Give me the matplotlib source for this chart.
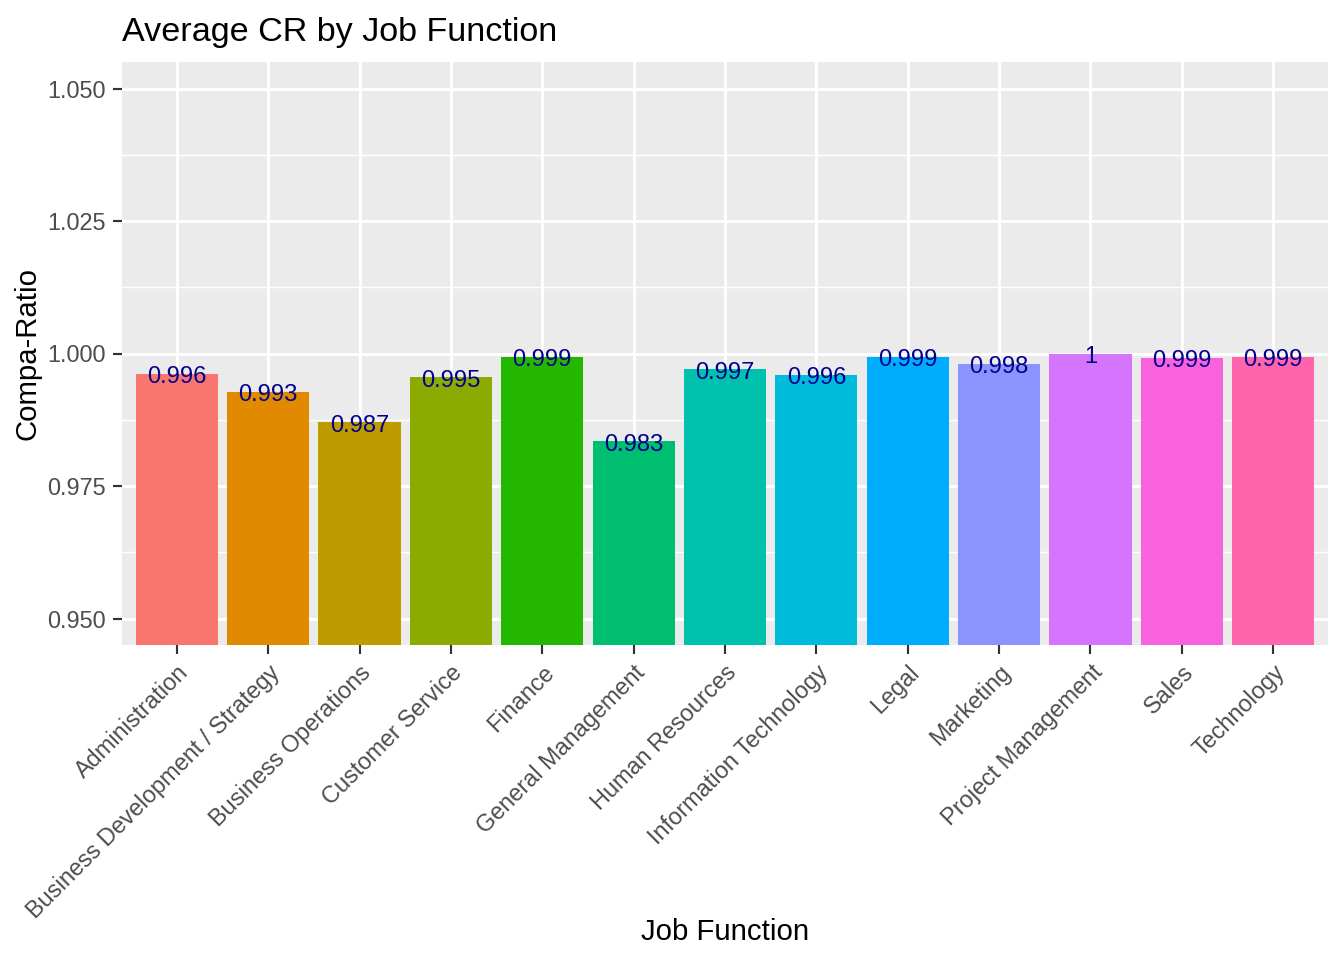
import matplotlib.pyplot as plt
import numpy as np

plt.rcParams["font.family"] = ["Liberation Sans", "DejaVu Sans"]

# Data
functions = ["Administration", "Business Development / Strategy", "Business Operations",
             "Customer Service", "Finance", "General Management", "Human Resources",
             "Information Technology", "Legal", "Marketing", "Project Management",
             "Sales", "Technology"]
avg_cr = [0.9962, 0.9928, 0.9870, 0.9955, 0.9994, 0.9834, 0.9970,
          0.9960, 0.9993, 0.9981, 1.0000, 0.9992, 0.9994]
labels = ["0.996", "0.993", "0.987", "0.995", "0.999", "0.983", "0.997",
          "0.996", "0.999", "0.998", "1", "0.999", "0.999"]
colors = ["#F8766D", "#E18A00", "#BE9C00", "#8CAB00", "#24B700", "#00BE70", "#00C1AB",
          "#00BBDA", "#00ACFC", "#8B93FF", "#D575FE", "#F962DD", "#FF65AC"]
yticks = [0.950, 0.975, 1.000, 1.025, 1.050]

fig = plt.figure(figsize=(7, 5), dpi=192)
ax = fig.add_axes([122 / 1344, 1 - 645 / 960, (1328 - 122) / 1344, (645 - 62) / 960])

x = np.arange(1, len(functions) + 1)
ax.set_facecolor("#EBEBEB")
ax.set_xlim(0.4, len(functions) + 0.6)
ax.set_ylim(0.945, 1.055)

# grid
for yv in yticks:
    ax.axhline(yv, color="white", lw=1.1, zorder=1)
for yv in np.arange(0.9625, 1.05, 0.025):
    ax.axhline(yv, color="white", lw=0.55, zorder=1)
for xv in x:
    ax.axvline(xv, color="white", lw=1.1, zorder=1)

ax.bar(x, np.array(avg_cr) - 0.9, bottom=0.9, width=0.9, color=colors, zorder=2)
for xi, v, lab in zip(x, avg_cr, labels):
    ax.text(xi, v - 0.0006, lab, ha="center", va="center", color="#00008B",
            fontsize=8.9, zorder=3)

for s in ax.spines.values():
    s.set_visible(False)

ax.set_yticks(yticks)
ax.set_yticklabels(["%.3f" % t for t in yticks])
ax.set_xticks(x)
ax.set_xticklabels(functions, rotation=45, ha="right", va="top", rotation_mode="anchor")
ax.tick_params(axis="both", colors="#333333", length=3.5, width=0.8, labelsize=8.8,
               labelcolor="#4D4D4D", pad=2.5)

ax.set_title("Average CR by Job Function", loc="left", fontsize=12.8, pad=8)
ax.set_ylabel("Compa-Ratio", fontsize=11)
ax.set_xlabel("Job Function", fontsize=11)
ax.yaxis.set_label_coords(-0.067, 0.5)
ax.xaxis.set_label_coords(0.5, -0.468)

fig.savefig("out.png", dpi=192)
